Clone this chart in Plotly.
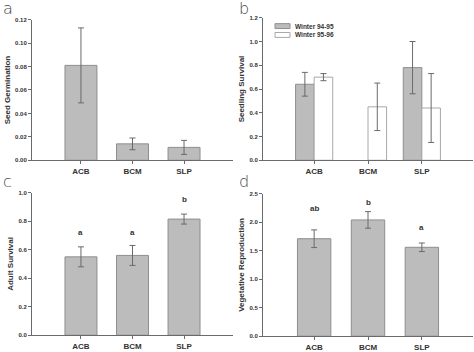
import plotly.graph_objects as go

sites = ["ACB", "BCM", "SLP"]

# Panel a: seed germination
germ = [0.081, 0.014, 0.011]
germ_err = [0.032, 0.005, 0.006]

# Panel b: seedling survival
surv_9495 = [0.64, None, 0.78]
surv_9495_err = [0.10, 0, 0.22]
surv_9596 = [0.70, 0.45, 0.44]
surv_9596_err = [0.03, 0.20, 0.29]
series_names = ["Winter 94-95", "Winter 95-96"]

# Panel c: adult survival
adult = [0.55, 0.56, 0.815]
adult_err = [0.07, 0.07, 0.035]
adult_letters = ["a", "a", "b"]
adult_letter_y = [0.72, 0.72, 0.95]

# Panel d: vegetative reproduction
veg = [1.71, 2.04, 1.56]
veg_err = [0.155, 0.145, 0.075]
veg_letters = ["ab", "b", "a"]
veg_letter_y = [2.24, 2.34, 1.90]

GRAY = "#bcbcbc"
EDGE = "#8e8e8e"
WEDGE = "#a8a8a8"
ERR = "#6a6a6a"
AX = "#6a6a6a"
TXT = "#333333"
FONT = "Liberation Sans"

fig = go.Figure()

def err(a):
    return dict(type="data", array=a, color=ERR, thickness=1, width=3)

fig.add_trace(go.Bar(x=sites, y=germ, error_y=err(germ_err), width=0.62,
                     marker=dict(color=GRAY, line=dict(color=EDGE, width=1)),
                     xaxis="x", yaxis="y", showlegend=False))
fig.add_trace(go.Bar(x=sites, y=surv_9495, error_y=err(surv_9495_err), width=0.345, offset=-0.345,
                     marker=dict(color=GRAY, line=dict(color=EDGE, width=1)),
                     xaxis="x2", yaxis="y2", name=series_names[0], showlegend=False))
fig.add_trace(go.Bar(x=sites, y=surv_9596, error_y=err(surv_9596_err), width=0.345, offset=0,
                     marker=dict(color="white", line=dict(color=WEDGE, width=1)),
                     xaxis="x2", yaxis="y2", name=series_names[1], showlegend=False))
fig.add_trace(go.Bar(x=sites, y=adult, error_y=err(adult_err), width=0.62,
                     marker=dict(color=GRAY, line=dict(color=EDGE, width=1)),
                     xaxis="x3", yaxis="y3", showlegend=False))
fig.add_trace(go.Bar(x=sites, y=veg, error_y=err(veg_err), width=0.62,
                     marker=dict(color=GRAY, line=dict(color=EDGE, width=1)),
                     xaxis="x4", yaxis="y4", showlegend=False))

W, H = 474, 352
def px(x):
    return x / W
def py(y):
    return 1 - y / H

xa = dict(showline=True, linecolor=AX, linewidth=1, ticks="outside", ticklen=3,
          tickcolor=AX, showgrid=False, zeroline=False, range=[-0.95, 2.95],
          tickfont=dict(family=FONT, size=8, color=TXT, weight="bold"))
def ya(rng, dtick, fmt, title):
    return dict(showline=True, linecolor=AX, linewidth=1, ticks="outside", ticklen=3,
                tickcolor=AX, showgrid=False, zeroline=False, range=rng, dtick=dtick,
                tickformat=fmt, tickfont=dict(family=FONT, size=6, color=TXT, weight="bold"),
                title=dict(text=title, standoff=3,
                           font=dict(family=FONT, size=8, color=TXT, weight="bold")))

fig.update_layout(
    width=W, height=H, margin=dict(l=0, r=0, t=0, b=0),
    paper_bgcolor="white", plot_bgcolor="white", barmode="overlay",
    xaxis=dict(xa, domain=[px(32), px(233)], anchor="y"),
    yaxis=dict(ya([0, 0.12], 0.02, ".2f", "Seed Germination"), domain=[py(160), py(17)], anchor="x"),
    xaxis2=dict(xa, domain=[px(263), px(473)], anchor="y2"),
    yaxis2=dict(ya([0, 1.2], 0.2, ".1f", "Seedling Survival"), domain=[py(160), py(15)], anchor="x2"),
    xaxis3=dict(xa, domain=[px(32), px(233)], anchor="y3"),
    yaxis3=dict(ya([0, 1.0], 0.2, ".1f", "Adult Survival"), domain=[py(338), py(193)], anchor="x3"),
    xaxis4=dict(xa, domain=[px(263), px(473)], anchor="y4"),
    yaxis4=dict(ya([0, 2.5], 0.5, ".1f", "Vegetative Reproduction"), domain=[py(339), py(194)], anchor="x4"),
    showlegend=False,
)

# legend for panel b (swatches + labels)
for i, (nm, fc, lc) in enumerate(zip(series_names, [GRAY, "white"], [EDGE, WEDGE])):
    yc = 23.5 + 9 * i
    fig.add_shape(type="rect", xref="paper", yref="paper",
                  x0=px(275), x1=px(290), y0=py(yc - 2.5), y1=py(yc + 2.5),
                  fillcolor=fc, line=dict(color=lc, width=1))
    fig.add_annotation(text=nm, x=px(293), y=py(yc), xref="paper", yref="paper",
                       showarrow=False, xanchor="left", yanchor="middle",
                       font=dict(family=FONT, size=6.5, color=TXT, weight="bold"))

for lab, (x, y) in zip(["a", "b", "c", "d"], [(8, 6), (244, 6), (8, 182), (244, 182)]):
    fig.add_annotation(text=lab, x=px(x), y=py(y), xref="paper", yref="paper",
                       showarrow=False, xanchor="center", yanchor="middle",
                       font=dict(family="DejaVu Sans", size=16, color="#444", weight=200))

for s, t, y in zip(sites, adult_letters, adult_letter_y):
    fig.add_annotation(text=t, x=s, y=y, xref="x3", yref="y3", showarrow=False,
                       font=dict(family=FONT, size=8, color=TXT, weight="bold"))
for s, t, y in zip(sites, veg_letters, veg_letter_y):
    fig.add_annotation(text=t, x=s, y=y, xref="x4", yref="y4", showarrow=False,
                       font=dict(family=FONT, size=8, color=TXT, weight="bold"))

fig.write_html("out.html")
